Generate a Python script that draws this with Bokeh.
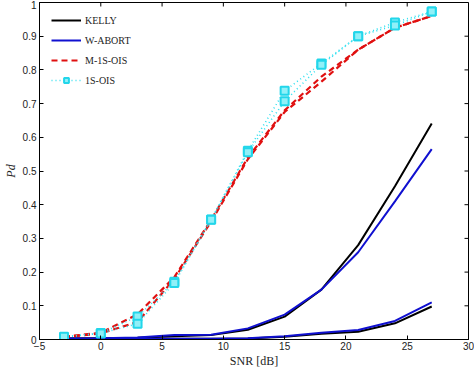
from bokeh.plotting import figure
from bokeh.models import FixedTicker, Range1d, Legend, LegendItem
from bokeh.embed import file_html
from bokeh.resources import INLINE

snr = [-3, 0, 3, 6, 9, 12, 15, 18, 21, 24, 27]

kelly_a = [0.003, 0.004, 0.005, 0.010, 0.013, 0.029, 0.068, 0.148, 0.280, 0.455, 0.641]
kelly_b = [0.002, 0.002, 0.002, 0.002, 0.002, 0.003, 0.008, 0.017, 0.023, 0.048, 0.098]
wabort_a = [0.003, 0.004, 0.006, 0.013, 0.014, 0.033, 0.074, 0.148, 0.259, 0.410, 0.565]
wabort_b = [0.002, 0.002, 0.002, 0.002, 0.002, 0.004, 0.010, 0.020, 0.028, 0.055, 0.110]
m1s_a = [0.008, 0.020, 0.075, 0.185, 0.355, 0.540, 0.680, 0.780, 0.860, 0.925, 0.960]
m1s_b = [0.007, 0.018, 0.052, 0.180, 0.350, 0.535, 0.675, 0.765, 0.860, 0.925, 0.960]
s1_a = [0.007, 0.019, 0.068, 0.171, 0.356, 0.560, 0.738, 0.819, 0.900, 0.941, 0.973]
s1_b = [0.008, 0.018, 0.047, 0.168, 0.355, 0.556, 0.707, 0.815, 0.900, 0.932, 0.973]

x_ticks = [-5, 0, 5, 10, 15, 20, 25, 30]
y_ticks = [0, 0.1, 0.2, 0.3, 0.4, 0.5, 0.6, 0.7, 0.8, 0.9, 1]
y_tick_labels = ["0", "0.1", "0.2", "0.3", "0.4", "0.5", "0.6", "0.7", "0.8", "0.9", "1"]

X0, X1, Y0, Y1 = -5, 30, 0, 1

p = figure(width=466, height=367, output_backend="svg", toolbar_location=None,
           x_range=Range1d(X0, X1), y_range=Range1d(Y0, Y1),
           min_border_left=30, min_border_right=7, min_border_top=2, min_border_bottom=28)
p.frame_width = 429
p.frame_height = 337
p.xgrid.visible = False
p.ygrid.visible = False
p.outline_line_color = "black"
p.outline_line_width = 1
p.background_fill_color = "white"
p.border_fill_color = "white"

CYAN_LINE = "#30e0f0"
CYAN_FILL = "#90f0f8"
CYAN_EDGE = "#22d6ea"

# curves
r_k = [p.line(snr, d, line_color="black", line_width=2) for d in (kelly_a, kelly_b)]
r_w = [p.line(snr, d, line_color="#1010d0", line_width=2) for d in (wabort_a, wabort_b)]
r_m = [p.line(snr, d, line_color="#e01010", line_width=2.2, line_dash="6 4") for d in (m1s_a, m1s_b)]
r_sl, r_sm = [], []
for d in (s1_a, s1_b):
    r_sl.append(p.line(snr, d, line_color=CYAN_LINE, line_width=1.6, line_dash="1 3"))
    r_sm.append(p.scatter(snr, d, marker="square", size=8, fill_color=CYAN_FILL,
                          line_color=CYAN_EDGE, line_width=2))

legend = Legend(items=[
    LegendItem(label="KELLY", renderers=[r_k[0]]),
    LegendItem(label="W-ABORT", renderers=[r_w[0]]),
    LegendItem(label="M-1S-OIS", renderers=[r_m[0]]),
    LegendItem(label="1S-OIS", renderers=[r_sl[0], r_sm[0]]),
], location="top_left")
legend.border_line_color = None
legend.background_fill_alpha = 0
legend.label_text_font = "Liberation Serif"
legend.label_text_font_size = "10px"
legend.label_text_color = "#222222"
legend.glyph_width = 30
legend.glyph_height = 12
legend.label_height = 12
legend.spacing = 8
legend.margin = 12
legend.padding = 4
legend.label_standoff = 4
p.add_layout(legend)

# axes
for ax in (p.xaxis[0], p.yaxis[0]):
    ax.major_tick_in = 4
    ax.major_tick_out = 0
    ax.minor_tick_line_color = None
    ax.major_label_text_font = "Liberation Sans"
    ax.major_label_text_font_size = "10px"
    ax.major_label_text_color = "#222222"
    ax.axis_line_color = "black"
    ax.major_tick_line_color = "black"

p.xaxis[0].ticker = FixedTicker(ticks=x_ticks)
p.yaxis[0].ticker = FixedTicker(ticks=y_ticks)
p.yaxis[0].major_label_overrides = {t: l for t, l in zip(y_ticks, y_tick_labels)}
p.xaxis[0].major_label_standoff = 2
p.yaxis[0].major_label_standoff = 3

p.xaxis[0].axis_label = "SNR [dB]"
p.xaxis[0].axis_label_text_font = "Liberation Serif"
p.xaxis[0].axis_label_text_font_style = "normal"
p.xaxis[0].axis_label_text_font_size = "12px"
p.xaxis[0].axis_label_standoff = 1
p.xaxis[0].axis_label_text_color = "#222222"

p.yaxis[0].axis_label = "Pd"
p.yaxis[0].axis_label_text_font = "Liberation Serif"
p.yaxis[0].axis_label_text_font_style = "italic"
p.yaxis[0].axis_label_text_font_size = "12px"
p.yaxis[0].axis_label_standoff = 2
p.yaxis[0].axis_label_text_color = "#222222"

# mirrored inward ticks on top and right edges (MATLAB box style)
tick_dy = (Y1 - Y0) * 4 / 337
tick_dx = (X1 - X0) * 4 / 429
p.segment(x0=x_ticks, y0=[Y1] * len(x_ticks), x1=x_ticks, y1=[Y1 - tick_dy] * len(x_ticks),
          line_color="black", line_width=1)
p.segment(x0=[X1] * len(y_ticks), y0=y_ticks, x1=[X1 - tick_dx] * len(y_ticks), y1=y_ticks,
          line_color="black", line_width=1)

open("out.html", "w").write(file_html(p, INLINE))
